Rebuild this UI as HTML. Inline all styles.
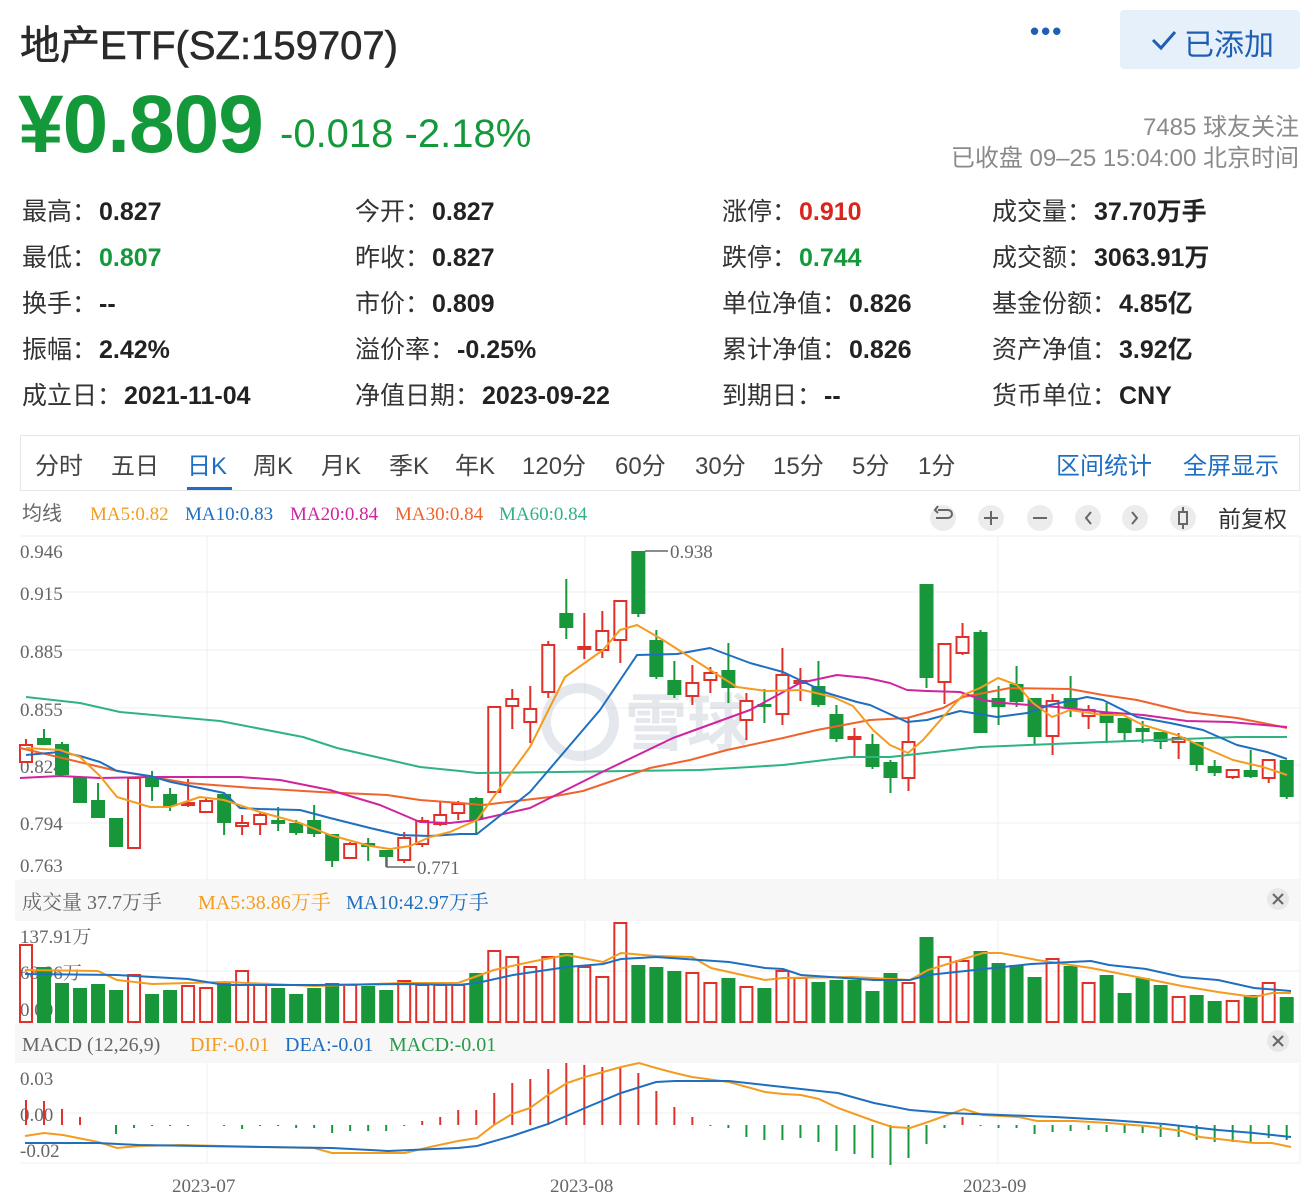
<!DOCTYPE html>
<html><head><meta charset="utf-8">
<style>
body{margin:0;width:1310px;height:1200px;background:#fff;position:relative;overflow:hidden;font-family:"Liberation Sans","Noto Sans CJK SC",sans-serif;color:#333}
.a{position:absolute;white-space:nowrap}
.st{font-size:25px;color:#333}
.st b{color:#222;margin-left:2px}
.tab{font-size:24px;color:#444;top:446px}
</style></head><body>
<div class="a" style="left:20px;top:13px;font-size:40px;color:#2a2a2a;-webkit-text-stroke:0.6px #2a2a2a">地产ETF(SZ:159707)</div>
<div class="a" style="left:1030px;top:16px;font-size:26px;color:#1e5fb4;letter-spacing:2px;font-weight:bold">•••</div>
<div class="a" style="left:1120px;top:10px;width:180px;height:59px;background:#e5f0fb;border-radius:4px;"></div>
<svg class="a" style="left:1151px;top:29px" width="26" height="22"><path d="M2 11l8 8L24 3" stroke="#1e5fb4" stroke-width="3" fill="none"/></svg>
<div class="a" style="left:1184px;top:20px;font-size:30px;color:#1e5fb4">已添加</div>
<div class="a" style="left:18px;top:78px;font-size:82px;font-weight:bold;color:#14993a;letter-spacing:-1px">¥0.809</div>
<div class="a" style="left:280px;top:112px;font-size:40px;color:#14993a">-0.018 -2.18%</div>
<div class="a" style="right:11px;top:107px;font-size:24px;color:#8a8a8a">7485 球友关注</div>
<div class="a" style="right:11px;top:138px;font-size:24px;color:#8a8a8a">已收盘 09–25 15:04:00 北京时间</div>

<div class="a st" style="left:22px;top:192px">最高：<b>0.827</b></div>
<div class="a st" style="left:22px;top:238px">最低：<b style="color:#14993a">0.807</b></div>
<div class="a st" style="left:22px;top:284px">换手：<b>--</b></div>
<div class="a st" style="left:22px;top:330px">振幅：<b>2.42%</b></div>
<div class="a st" style="left:22px;top:376px">成立日：<b>2021-11-04</b></div>
<div class="a st" style="left:355px;top:192px">今开：<b>0.827</b></div>
<div class="a st" style="left:355px;top:238px">昨收：<b>0.827</b></div>
<div class="a st" style="left:355px;top:284px">市价：<b>0.809</b></div>
<div class="a st" style="left:355px;top:330px">溢价率：<b>-0.25%</b></div>
<div class="a st" style="left:355px;top:376px">净值日期：<b>2023-09-22</b></div>
<div class="a st" style="left:722px;top:192px">涨停：<b style="color:#d9261c">0.910</b></div>
<div class="a st" style="left:722px;top:238px">跌停：<b style="color:#14993a">0.744</b></div>
<div class="a st" style="left:722px;top:284px">单位净值：<b>0.826</b></div>
<div class="a st" style="left:722px;top:330px">累计净值：<b>0.826</b></div>
<div class="a st" style="left:722px;top:376px">到期日：<b>--</b></div>
<div class="a st" style="left:992px;top:192px">成交量：<b>37.70万手</b></div>
<div class="a st" style="left:992px;top:238px">成交额：<b>3063.91万</b></div>
<div class="a st" style="left:992px;top:284px">基金份额：<b>4.85亿</b></div>
<div class="a st" style="left:992px;top:330px">资产净值：<b>3.92亿</b></div>
<div class="a st" style="left:992px;top:376px">货币单位：<b>CNY</b></div>

<div class="a" style="left:20px;top:435px;width:1278px;height:54px;border:1px solid #e6e6e6"></div>
<div class="a tab" style="left:35px">分时</div>
<div class="a tab" style="left:111px">五日</div>
<div class="a tab" style="left:187px;color:#1e6fc4">日K</div>
<div class="a" style="left:187px;top:487px;width:45px;height:3px;background:#1e6fc4"></div>
<div class="a tab" style="left:253px">周K</div>
<div class="a tab" style="left:321px">月K</div>
<div class="a tab" style="left:389px">季K</div>
<div class="a tab" style="left:455px">年K</div>
<div class="a tab" style="left:522px">120分</div>
<div class="a tab" style="left:615px">60分</div>
<div class="a tab" style="left:695px">30分</div>
<div class="a tab" style="left:773px">15分</div>
<div class="a tab" style="left:852px">5分</div>
<div class="a tab" style="left:918px">1分</div>
<div class="a tab" style="left:1056px;color:#1e6fc4">区间统计</div>
<div class="a tab" style="left:1183px;color:#1e6fc4">全屏显示</div>

<svg class="a" style="left:0;top:0" width="1310" height="1200" xmlns="http://www.w3.org/2000/svg">
<g font-family="Liberation Serif,Noto Serif CJK SC,serif" font-size="19">
<text x="22" y="520" fill="#666" font-family="Liberation Sans,Noto Sans CJK SC,sans-serif" font-size="20">均线</text>
<text x="90" y="520" fill="#f39c1f">MA5:0.82</text>
<text x="185" y="520" fill="#1f6fc0">MA10:0.83</text>
<text x="290" y="520" fill="#d0249e">MA20:0.84</text>
<text x="395" y="520" fill="#f0632d">MA30:0.84</text>
<text x="499" y="520" fill="#2fb380">MA60:0.84</text>
</g>
<g fill="#ececec"><circle cx="943" cy="518" r="13"/><circle cx="991" cy="518" r="13"/><circle cx="1040" cy="518" r="13"/><circle cx="1088" cy="518" r="13"/><circle cx="1135" cy="518" r="13"/><circle cx="1183" cy="518" r="13"/></g>
<g stroke="#666" stroke-width="2" fill="none"><path d="M936 518h12a4 4 0 0 0 0-8h-10M938 506l-3 4 3 3"/><path d="M984 518h14M991 511v14"/><path d="M1033 518h14"/><path d="M1091 512l-5 6 5 6"/><path d="M1132 512l5 6-5 6"/><rect x="1179" y="512" width="8" height="12"/><path d="M1183 507v5M1183 524v5"/></g>
<text x="1218" y="527" font-size="23" fill="#333" font-family="Liberation Sans,Noto Sans CJK SC,sans-serif">前复权</text>

<g stroke="#efefef" stroke-width="1">
<line x1="20" y1="536" x2="1300" y2="536"/><line x1="20" y1="592" x2="1300" y2="592"/><line x1="20" y1="650" x2="1300" y2="650"/><line x1="20" y1="708" x2="1300" y2="708"/><line x1="20" y1="765" x2="1300" y2="765"/><line x1="20" y1="823" x2="1300" y2="823"/><line x1="20" y1="880" x2="1300" y2="880"/>
<line x1="207" y1="536" x2="207" y2="880"/><line x1="585" y1="536" x2="585" y2="880"/><line x1="998" y1="536" x2="998" y2="880"/>
<line x1="1300" y1="536" x2="1300" y2="1163"/>
</g>
<g opacity="0.22" fill="#8a9aab">
<circle cx="580" cy="722" r="34" fill="none" stroke="#8a9aab" stroke-width="10"/>
<text x="625" y="745" font-size="62" font-weight="bold" font-family="Noto Sans CJK SC,sans-serif">雪球</text>
</g>
<g font-family="Liberation Serif,serif" font-size="19" fill="#666">
<text x="20" y="558">0.946</text><text x="20" y="600">0.915</text><text x="20" y="658">0.885</text><text x="20" y="716">0.855</text><text x="20" y="773">0.824</text><text x="20" y="830">0.794</text><text x="20" y="872">0.763</text>
</g>
<g id="candles"></g>
<g fill="none" stroke-width="2" stroke-linejoin="round">
<polyline stroke="#2fb380" points="26,697 80,703 120,712 220,721 303,737 337,748 420,767 460,771 477,773 560,772 700,770 783,765 850,757 890,757 980,747 1103,742 1237,737 1287,737"/>
<polyline stroke="#f0632d" points="20,748 113,770 187,783 253,788 320,792 387,795 420,800 460,803 483,805 550,797 583,791 650,768 690,760 727,750 783,738 817,730 870,720 907,718 943,708 963,697 1010,688 1070,689 1103,695 1137,700 1187,712 1237,718 1263,723 1287,728"/>
<polyline stroke="#d0249e" points="20,778 60,776 100,778 150,777 200,777 240,777 280,780 330,790 380,805 420,822 450,823 477,820 530,808 600,773 673,738 750,710 800,683 837,675 867,678 890,683 907,690 927,691 960,692 983,700 1003,703 1057,707 1103,712 1143,715 1187,721 1230,722 1287,727"/>
<polyline stroke="#1f6fc0" points="26,755 60,752 80,756 100,762 117,771 150,776 171,782 200,788 224,793 240,808 260,809 300,810 330,818 370,828 400,835 430,836 460,834 477,834 530,792 600,710 637,655 677,654 710,648 750,663 783,672 827,693 857,702 870,705 907,722 927,720 960,711 997,717 1027,713 1050,705 1087,697 1103,700 1137,717 1170,723 1203,730 1237,745 1267,752 1287,759"/>
<polyline stroke="#f39c1f" points="26,748 60,750 80,757 100,776 117,797 150,807 170,807 200,797 224,800 260,812 300,823 330,835 370,846 390,849 410,846 430,837 450,832 477,820 500,788 530,747 565,677 603,650 620,630 637,625 663,640 710,670 737,687 767,691 803,690 833,697 853,706 873,730 890,745 908,753 923,740 943,717 963,695 980,688 998,678 1017,685 1033,703 1052,717 1070,710 1103,715 1123,715 1143,725 1177,735 1203,747 1233,760 1263,767 1287,775"/>
</g>
<g stroke="#666" stroke-width="1.5" fill="none"><path d="M645 551H668"/><path d="M387 857V867H415"/></g>
<g font-family="Liberation Serif,serif" font-size="19" fill="#666"><text x="670" y="558">0.938</text><text x="417" y="874">0.771</text></g>

<rect x="15" y="880" width="1285" height="41" fill="#f7f7f7"/>
<text x="22" y="909" font-size="20" fill="#666" font-family="Liberation Serif,Noto Serif CJK SC,serif">成交量 37.7万手</text>
<text x="198" y="909" font-size="20" fill="#f39c1f" font-family="Liberation Serif,Noto Serif CJK SC,serif">MA5:38.86万手</text>
<text x="346" y="909" font-size="20" fill="#1f6fc0" font-family="Liberation Serif,Noto Serif CJK SC,serif">MA10:42.97万手</text>
<circle cx="1278" cy="899" r="11" fill="#e8e8e8"/><path d="M1273 894l10 10M1283 894l-10 10" stroke="#666" stroke-width="2"/>
<g stroke="#efefef"><line x1="207" y1="921" x2="207" y2="1023"/><line x1="585" y1="921" x2="585" y2="1023"/><line x1="998" y1="921" x2="998" y2="1023"/><line x1="20" y1="971" x2="1300" y2="971"/></g>
<g font-family="Liberation Serif,Noto Serif CJK SC,serif" font-size="19" fill="#666"><text x="20" y="943">137.91万</text><text x="20" y="979">68.96万</text><text x="20" y="1016">0.00</text></g>
<g id="vols"></g>
<g fill="none" stroke-width="2">
<polyline stroke="#f39c1f" points="25,970 98,971 117,980 152,984 225,982 315,986 405,983 458,983 494,970 530,962 567,955 603,962 621,953 656,956 692,957 711,968 765,980 783,978 853,977 910,980 928,970 983,953 1001,953 1037,960 1091,968 1127,975 1182,986 1218,992 1254,997 1272,993 1291,993"/>
<polyline stroke="#1f6fc0" points="25,974 117,975 188,979 225,985 315,985 405,984 458,985 477,983 513,975 567,967 603,964 621,959 656,957 729,962 765,968 783,969 801,975 874,980 910,980 928,975 1031,964 1091,961 1109,965 1146,969 1182,977 1218,980 1254,988 1291,991"/>
</g>

<rect x="15" y="1023" width="1285" height="40" fill="#f7f7f7"/>
<g font-family="Liberation Serif,Noto Serif CJK SC,serif" font-size="20"><text x="22" y="1051" fill="#666">MACD (12,26,9)</text><text x="190" y="1051" fill="#f39c1f">DIF:-0.01</text><text x="285" y="1051" fill="#1f6fc0">DEA:-0.01</text><text x="389" y="1051" fill="#2a9a4a">MACD:-0.01</text></g>
<circle cx="1278" cy="1041" r="11" fill="#e8e8e8"/><path d="M1273 1036l10 10M1283 1036l-10 10" stroke="#666" stroke-width="2"/>
<g stroke="#efefef"><line x1="207" y1="1063" x2="207" y2="1163"/><line x1="585" y1="1063" x2="585" y2="1163"/><line x1="998" y1="1063" x2="998" y2="1163"/><line x1="20" y1="1113" x2="1300" y2="1113"/><line x1="20" y1="1163" x2="1300" y2="1163"/></g>
<g font-family="Liberation Serif,serif" font-size="19" fill="#666"><text x="20" y="1085">0.03</text><text x="20" y="1121">0.00</text><text x="20" y="1157">-0.02</text></g>
<g id="macd"></g>
<g fill="none" stroke-width="2">
<polyline stroke="#f39c1f" points="25,1136 44,1133 63,1135 98,1142 117,1148 139,1146 181,1145 222,1146 264,1147 314,1148 332,1153 388,1153 405,1153 430,1147 458,1141 477,1138 494,1125 512,1114 530,1108 548,1095 567,1083 585,1077 621,1067 639,1063 656,1068 675,1073 692,1077 729,1082 765,1092 783,1094 801,1095 819,1099 838,1108 874,1121 892,1127 910,1128 928,1122 964,1109 983,1115 1019,1117 1037,1121 1074,1121 1109,1123 1146,1126 1182,1131 1200,1137 1218,1139 1254,1143 1272,1143 1291,1147"/>
<polyline stroke="#1f6fc0" points="25,1143 98,1143 139,1145 264,1147 332,1148 388,1151 458,1148 477,1146 512,1136 548,1124 585,1108 621,1093 656,1082 675,1081 729,1081 765,1085 819,1091 838,1093 874,1103 910,1110 947,1113 1001,1115 1055,1117 1109,1120 1164,1124 1218,1130 1254,1133 1291,1137"/>
</g>
<g font-family="Liberation Serif,serif" font-size="19" fill="#666"><text x="172" y="1192">2023-07</text><text x="550" y="1192">2023-08</text><text x="963" y="1192">2023-09</text></g>
</svg>
<script>
var NS="http://www.w3.org/2000/svg",R="#e0302a",G="#17973a";
function el(p,t,a){var e=document.createElementNS(NS,t);for(var k in a)e.setAttribute(k,a[k]);p.appendChild(e);return e;}
var C=[["r",745,762,739,762],["g",738,745,729,745],["g",744,775,742,777],["g",777,803,777,803],["g",800,818,783,818],["g",818,847,818,847],["r",778,848,778,848],["g",777,787,771,801],["g",794,806,788,811],["r",803,805,779,807],["r",801,812,797,812],["g",794,823,794,835],["r",823,826,815,835],["r",815,824,813,835],["g",820,824,807,831],["g",823,833,820,835],["g",820,834,805,837],["g",834,861,834,867],["r",844,858,842,858],["g",843,847,838,861],["g",850,857,850,867],["r",838,860,832,863],["r",821,844,817,847],["r",815,824,801,826],["r",804,813,801,820],["g",798,820,797,834],["r",707,792,707,792],["r",699,706,689,729],["r",709,722,686,743],["r",645,692,641,698],["g",613,628,579,639],["r",647,649,613,659],["r",631,650,611,658],["r",601,640,601,663],["g",551,614,551,617],["g",640,677,630,679],["g",680,695,661,698],["r",683,696,665,705],["r",673,680,667,693],["g",670,688,643,703],["r",701,720,693,740],["g",704,707,689,723],["r",675,714,648,725],["r",681,683,668,701],["g",686,705,661,707],["g",714,739,705,742],["r",737,739,728,756],["g",744,767,734,769],["g",762,778,760,793],["r",742,778,718,791],["g",584,678,584,688],["r",644,682,644,704],["r",637,653,623,655],["g",632,733,630,733],["g",698,707,686,725],["g",684,702,666,707],["g",698,737,698,745],["r",701,736,694,755],["g",698,708,676,717],["r",710,716,705,729],["g",712,723,703,743],["g",718,733,718,742],["g",728,732,721,743],["g",732,742,732,749],["r",738,742,733,759],["g",742,765,742,771],["g",766,773,760,776],["r",770,777,770,779],["g",770,777,750,778],["r",760,778,760,783],["g",760,797,760,799]];
var V=["r945","g967","g983","g988","g984","g990","r975","g994","g990","r986","r988","g983","r971","r985","g988","g994","g988","g983","r985","g986","g990","r981","r985","r985","r985","g973","r951","r957","r967","r957","g953","r967","r977","r923","g965","g967","g971","r973","r983","g978","r987","g988","r971","r978","g982","g980","g980","g991","g973","r983","g937","r957","r961","g951","g963","g965","g977","r959","g966","r983","g975","g993","g978","g985","r997","g995","g1001","r1001","g995","r983","g997"];
var M=[1100,1101,1109,1117,1125,1134,1128,1126,1126,1126,1125,1126,1129,1126,1126,1128,1128,1133,1131,1131,1131,1126,1121,1117,1110,1110,1093,1083,1079,1069,1063,1065,1067,1067,1073,1091,1107,1117,1126,1128,1137,1140,1140,1138,1142,1151,1154,1158,1165,1158,1144,1128,1117,1126,1128,1128,1134,1132,1131,1130,1132,1133,1133,1137,1137,1140,1142,1142,1142,1138,1140];
var cg=document.getElementById("candles"),vg=document.getElementById("vols"),mg=document.getElementById("macd");
C.forEach(function(c,i){var x=26+18.01*i,col=c[0]=="r"?R:G;
el(cg,"line",{x1:x,x2:x,y1:c[3],y2:c[4],stroke:col,"stroke-width":2});
var h=Math.max(c[2]-c[1],2);
if(c[0]=="r"){el(cg,"rect",{x:x-6,y:c[1],width:12,height:h,fill:"#fff",stroke:col,"stroke-width":2});}
else el(cg,"rect",{x:x-7,y:c[1],width:14,height:h,fill:col});});
V.forEach(function(v,i){var x=26+18.01*i,t=+v.slice(1);
if(v[0]=="r")el(vg,"rect",{x:x-6,y:t,width:12,height:1022-t,fill:"none",stroke:R,"stroke-width":2});
else el(vg,"rect",{x:x-7,y:t,width:14,height:1023-t,fill:G});});
M.forEach(function(m,i){var x=26+18.01*i;if(m==1125)return;var col=m<1125?R:G;
el(mg,"line",{x1:x,x2:x,y1:1125,y2:m,stroke:col,"stroke-width":2});});
</script>
</body></html>
